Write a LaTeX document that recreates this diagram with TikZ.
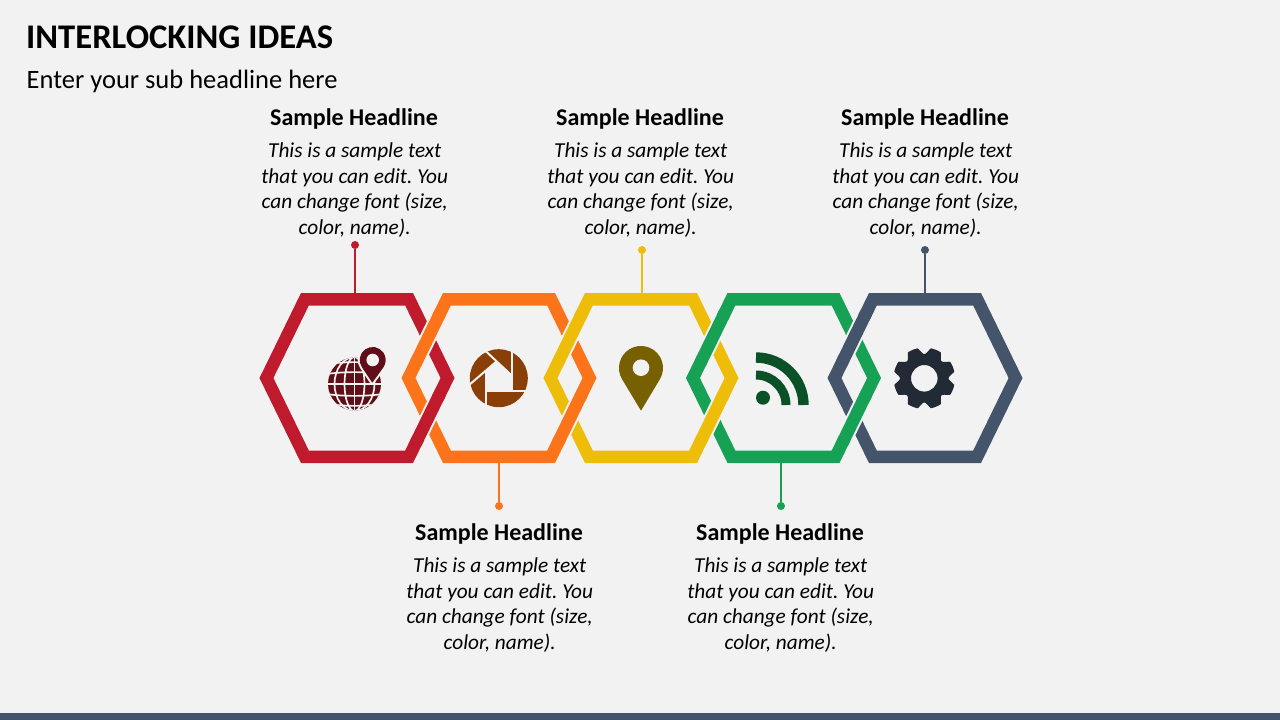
\documentclass[tikz,border=0pt]{standalone}
\usepackage{fontspec}
\setmainfont{Carlito}
\frenchspacing
\definecolor{bgc}{HTML}{F2F2F2}
\definecolor{cred}{HTML}{BF1B2D}
\definecolor{corange}{HTML}{FB7419}
\definecolor{cyellow}{HTML}{EDBD0A}
\definecolor{cgreen}{HTML}{16A155}
\definecolor{cnavy}{HTML}{44546A}
\definecolor{ired}{HTML}{600F19}
\definecolor{ibrown}{HTML}{8A3F08}
\definecolor{iolive}{HTML}{766000}
\definecolor{igreen}{HTML}{0B5128}
\definecolor{igear}{HTML}{222A35}
\newcommand{\hexoutline}{(-90.55,0)--(-52.1,-78.75)--(52.1,-78.75)--(90.55,0)--(52.1,78.75)--(-52.1,78.75)--cycle}
\tikzset{
  hexring/.style={draw=#1,line width=12.5pt,line join=miter},
  halo/.style={draw=bgc,line width=16.5pt,line cap=butt},
  over/.style={draw=#1,line width=12.5pt,line cap=butt},
  dotnode/.style={circle,fill=#1,inner sep=0pt,minimum size=8pt},
  stem/.style={draw=#1,line width=2.2pt},
  headline/.style={font=\fontsize{24}{28}\selectfont\bfseries,inner sep=0pt,anchor=base},
  bodytext/.style={font=\fontsize{21.3}{25.5}\selectfont\itshape,align=center,inner sep=0pt,anchor=center},
}
\begin{document}
\begin{tikzpicture}[x=1pt,y=-1pt]
\useasboundingbox (0,0) rectangle (1280,720);
\fill[bgc] (0,0) rectangle (1280,720);
\fill[cnavy] (0,713) rectangle (1280,720);
\node[font=\fontsize{34.6}{38}\selectfont\bfseries,inner sep=0pt,anchor=base west] (title) at (26,48.7) {INTERLOCKING IDEAS};
\node[font=\fontsize{26.5}{30}\selectfont,inner sep=0pt,anchor=base west] (sub) at (26.5,88) {Enter your sub headline here};
% hexagons
\foreach \cx/\cc in {357/cred,499/corange,641/cyellow,783.5/cgreen,925/cnavy}{
  \draw[hexring=\cc,shift={(\cx,378)}] \hexoutline;
}
% interlocks
\foreach \cl/\cr/\ca/\cb in {357/499/cred/corange,499/641/corange/cyellow,641/783.5/cyellow/cgreen,783.5/925/cgreen/cnavy}{
  \begin{scope}[shift={(\cr,378)}]
    \draw[halo] (-80.79,-20) -- (-61.27,-60);
    \draw[over=\cb] (-83.23,-15) -- (-58.83,-65);
  \end{scope}
  \begin{scope}[shift={(\cl,378)}]
    \draw[halo] (80.79,20) -- (61.27,60);
    \draw[over=\ca] (83.23,15) -- (58.83,65);
  \end{scope}
}
% connectors
\coordinate (h1) at (355,293);
\coordinate (h2) at (499,463);
\coordinate (h3) at (642,293);
\coordinate (h4) at (781,463);
\coordinate (h5) at (925,293);
\node[dotnode=cred] (d1) at (355,245) {};
\node[dotnode=corange] (d2) at (499,506) {};
\node[dotnode=cyellow] (d3) at (642,250) {};
\node[dotnode=cgreen] (d4) at (781,506) {};
\node[dotnode=cnavy] (d5) at (925,250) {};
\draw[stem=cred] (d1) -- (h1);
\draw[stem=corange] (d2) -- (h2);
\draw[stem=cyellow] (d3) -- (h3);
\draw[stem=cgreen] (d4) -- (h4);
\draw[stem=cnavy] (d5) -- (h5);
% globe icon
\begin{scope}
  \fill[ired] (354.5,384) circle[radius=26.5];
  \clip (354.5,384) circle[radius=26.5];
  \begin{scope}[draw=bgc,line width=1.7pt]
    \draw (354.5,356) -- (354.5,412);
    \draw (354.5,384) ellipse[x radius=10,y radius=27];
    \draw (354.5,384) ellipse[x radius=20,y radius=27];
    \draw (326,384) -- (383,384);
    \draw (326,374) .. controls (345,371.5) and (364,371.5) .. (383,374);
    \draw (330,364) .. controls (345,361.5) and (364,361.5) .. (379,364);
    \draw (326,394) .. controls (345,396.5) and (364,396.5) .. (383,394);
    \draw (330,404) .. controls (345,406.5) and (364,406.5) .. (379,404);
  \end{scope}
\end{scope}
\draw[draw=bgc,fill=bgc,line width=4pt,line join=round] (372.3,382.7) -- (362.05,367.45) arc[start angle=145,end angle=395,radius=13] -- cycle;
\fill[ired] (372.3,382.7) -- (362.05,367.45) arc[start angle=145,end angle=395,radius=13] -- cycle;
\fill[bgc] (372.7,360) circle[radius=6.3];
% aperture icon
\fill[ibrown] (498.8,378.2) circle[radius=29];
\begin{scope}
  \clip (498.8,378.2) circle[radius=29.5];
  \fill[bgc] (496.7,361.3) -- (511.7,375.5) -- (511.7,391.3) -- (485.7,391.3) -- (485.7,370.7) -- cycle;
  \begin{scope}[draw=bgc,line width=2pt]
    \draw (511.7,375.5) -- (476,342);
    \draw (511.7,391.3) -- (511.7,345);
    \draw (485.7,391.3) -- (532,391.3);
    \draw (485.7,370.7) -- (485.7,412);
    \draw (496.7,361.3) -- (465,388.5);
  \end{scope}
\end{scope}
% pin icon
\fill[iolive] (641,410.7) -- (622.1,379.3) arc[start angle=149,end angle=391,radius=22] -- cycle;
\fill[bgc] (641,367.7) circle[radius=8.3];
% rss icon
\fill[igreen] (763,397.7) circle[radius=7];
\draw[igreen,line width=10.4pt] (756,357.5) arc[start angle=270,end angle=360,radius=47.5];
\draw[igreen,line width=9pt] (756,375) arc[start angle=270,end angle=360,radius=30];
% gear icon
\fill[igear,even odd rule] plot[domain=0:360,samples=361] ({924.3+(26+min(4.7,5.5*cos(8*(\x-22.5))+3.8))*cos(\x)},{378.3+(26+min(4.7,5.5*cos(8*(\x-22.5))+3.8))*sin(\x)}) -- cycle (924.3,378.3) circle[radius=13.3];
% texts
\node[headline] (t1h) at (354,125.5) {Sample Headline};
\node[bodytext] (t1b) at (354.7,190.3) {This is a sample text\\that you can edit. You\\can change font (size,\\color, name).};
\node[headline] (t3h) at (640,125.5) {Sample Headline};
\node[bodytext] (t3b) at (640.7,190.3) {This is a sample text\\that you can edit. You\\can change font (size,\\color, name).};
\node[headline] (t5h) at (925,125.5) {Sample Headline};
\node[bodytext] (t5b) at (925.7,190.3) {This is a sample text\\that you can edit. You\\can change font (size,\\color, name).};
\node[headline] (t2h) at (499,540.5) {Sample Headline};
\node[bodytext] (t2b) at (499.7,605.3) {This is a sample text\\that you can edit. You\\can change font (size,\\color, name).};
\node[headline] (t4h) at (780,540.5) {Sample Headline};
\node[bodytext] (t4b) at (780.7,605.3) {This is a sample text\\that you can edit. You\\can change font (size,\\color, name).};
\end{tikzpicture}
\end{document}
